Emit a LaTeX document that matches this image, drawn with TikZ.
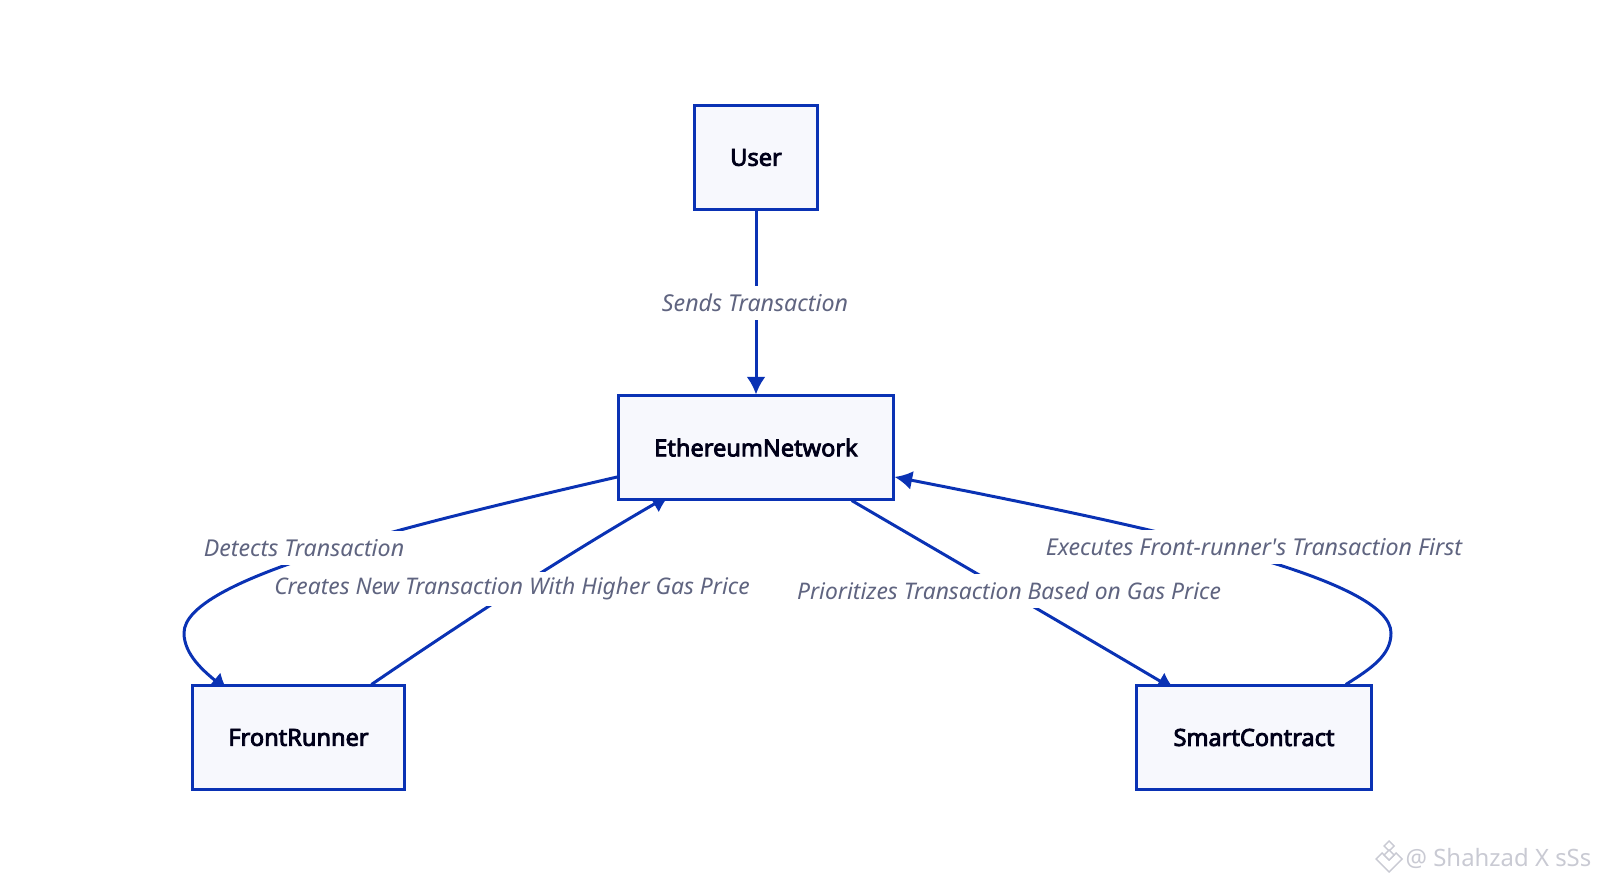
\documentclass[tikz,border=0pt]{standalone}
\usepackage{fontspec}
\setmainfont{Noto Sans}
\newfontfamily\boxfont[FakeBold=3.5]{Noto Sans}
\usetikzlibrary{arrows.meta}
\usetikzlibrary{backgrounds}
\definecolor{flowblue}{HTML}{0A32B4}
\definecolor{boxfill}{HTML}{F7F8FD}
\definecolor{labelgray}{HTML}{5F6480}
\definecolor{marktext}{HTML}{C9CAD3}
\tikzset{
	boxnode/.style={draw=flowblue,fill=boxfill,line width=0.85pt,inner sep=0pt,
		font=\fontsize{6.7pt}{8pt}\boxfont,text=black!90!blue,anchor=center},
	flowarrow/.style={draw=flowblue,line width=0.85pt,-{Latex[length=5pt,width=5.4pt]}},
	cutarrow/.style={flowarrow,shorten >=-3pt},
	edgelabel/.style={fill=white,inner sep=0pt,minimum height=0.34cm,text=labelgray,
		font=\fontsize{#1}{8pt}\selectfont\itshape},
	edgelabel/.default=6.6pt,
	marknode/.style={text=marktext,inner sep=0pt,font=\fontsize{6.8pt}{8pt}\selectfont},
	markdiamond/.style={draw=marktext,line width=0.4pt,fill=white}
}
\begin{document}
\begin{tikzpicture}[x=0.01cm,y=-0.01cm]
	\useasboundingbox (0,0) rectangle (1600,883);
	% boxes
	\node[boxnode,minimum width=1.22cm,minimum height=1.03cm] (user) at (756,157.5) {User};
	\node[boxnode,minimum width=2.74cm,minimum height=1.03cm] (network) at (756,447.5) {EthereumNetwork};
	\node[boxnode,minimum width=2.11cm,minimum height=1.03cm] (frontrunner) at (298.5,737.5) {FrontRunner};
	\node[boxnode,minimum width=2.34cm,minimum height=1.03cm] (contract) at (1254,737.5) {SmartContract};
	% connectors go under the boxes
	\begin{scope}[on background layer]
		\draw[flowarrow] (user) -- (network);
		\draw[cutarrow] (network.192) .. controls (396,528) and (184,580) .. (184,633)
			.. controls (184,655) and (205,672) .. (frontrunner.146);
		\draw[cutarrow] (frontrunner.36) .. controls (466,620) and (566,555) .. (network.209.5);
		\draw[cutarrow] (network.-29.5) .. controls (950,558) and (1060,622) .. (contract.149.7);
		\draw[flowarrow] (contract.30.3) .. controls (1372,668) and (1391,655) .. (1391,633)
			.. controls (1391,580) and (1172,531) .. (network.-12);
		% labels
		\node[edgelabel] (sends) at (755,303) {Sends Transaction};
		\node[edgelabel] (detects) at (304,548) {Detects Transaction};
		\node[edgelabel=6.5pt] (creates) at (512,589) {Creates New Transaction With Higher Gas Price};
		\node[edgelabel=6.5pt] (prioritizes) at (1009,591) {Prioritizes Transaction Based on Gas Price};
		\node[edgelabel] (executes) at (1254,547) {Executes Front-runner\textquotesingle s Transaction First};
	\end{scope}
	% watermark
	\node[marknode,anchor=east] (mark) at (1592,858) {@ Shahzad X sSs};
	\draw[markdiamond] (1389,872) -- (1402,859) -- (1396,853) -- (1389,860) -- (1382,853) -- (1376,859) -- cycle;
	\draw[markdiamond] (1389,851) -- (1394,846) -- (1389,841) -- (1384,846) -- cycle;
	\draw[markdiamond] (1389,860) -- (1394,855) -- (1389,850) -- (1384,855) -- cycle;
\end{tikzpicture}
\end{document}
